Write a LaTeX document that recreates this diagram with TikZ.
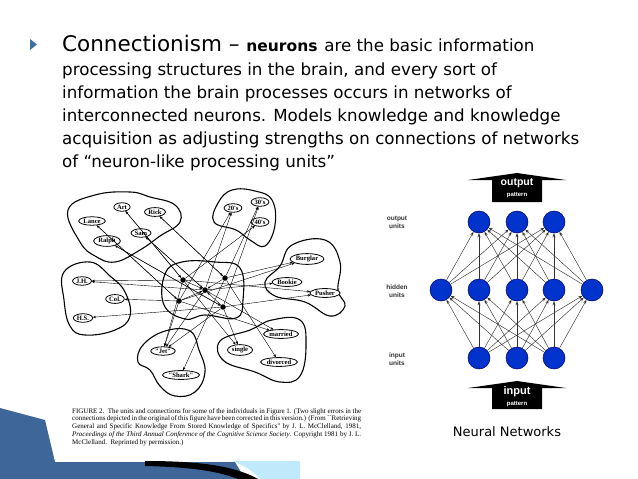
\documentclass[tikz,border=0pt]{standalone}
\usepackage{fontspec}
\setmainfont{DejaVu Sans}
\newfontfamily\capfont{Liberation Serif}
\newfontfamily\labfont{Liberation Sans}
\usetikzlibrary{arrows.meta,shapes.geometric}
\begin{document}
\begin{tikzpicture}[x=1pt,y=-1pt,
  body/.style={anchor=base west,inner sep=0pt,font=\fontsize{16.7}{18}\selectfont},
  leaf/.style={draw,ellipse,line width=0.8pt,inner sep=0.8pt,fill=white,font=\capfont\bfseries\fontsize{6.6}{7}\selectfont},
  unit/.style={circle,fill=black,inner sep=0pt,minimum size=5.5pt},
  blob/.style={line width=1.1pt},
  fc/.style={-{Stealth[length=3pt,width=2.5pt]},line width=0.4pt},
  nn/.style={circle,fill=blue!75!cyan!80!black,draw=blue!40!black,line width=0.5pt,minimum size=22pt,inner sep=0pt},
  nc/.style={-{Stealth[length=4pt,width=3pt]},line width=0.45pt,gray!40!black},
  side/.style={align=center,font=\labfont\bfseries\fontsize{6.5}{8}\selectfont,text=black!80},
  bigarr/.style={fill=black}]
\useasboundingbox (0,0) rectangle (638,479);
\fill[white] (0,0) rectangle (638,479);
% bottom swoosh
\fill[cyan!50!blue!70!black] (0,408) -- (45,420) -- (55,462) -- (235,462) -- (245,479) -- (0,479) -- cycle;
\fill[black] (145,461) .. controls (200,461) and (235,466) .. (258,479) -- (238,479) .. controls (215,470) and (185,467) .. (145,466) -- cycle;
\fill[cyan!25] (232,461) -- (300,461) -- (300,479) -- (260,479) .. controls (252,470) and (243,465) .. (232,461) -- cycle;
% bullet
\fill[cyan!60!blue!70!black] (30,39) -- (37,44.5) -- (30,50) -- cycle;
% text
\node[body,font=\fontsize{21.5}{24}\selectfont] (t1) at (62,52) {Connectionism – {\fontsize{15.5}{18}\selectfont\bfseries neurons} {\fontsize{16.7}{18}\selectfont are the basic information}};
\node[body] (t2) at (62,75) {processing structures in the brain, and every sort of};
\node[body] (t3) at (62,98) {information the brain processes occurs in networks of};
\node[body] (t4) at (62,121) {interconnected neurons. Models knowledge and knowledge};
\node[body] (t5) at (62,144) {acquisition as adjusting strengths on connections of networks};
\node[body] (t6) at (62,167) {of “neuron-like processing units”};
% ---- left figure ----
\draw[blob] plot[smooth cycle,tension=0.7] coordinates {(68,210) (95,195) (130,192) (150,197) (175,205) (180,222) (160,236) (140,250) (115,262) (95,256) (80,242)};
\draw[blob] plot[smooth cycle,tension=0.7] coordinates {(218,203) (232,190) (255,191) (272,200) (275,225) (265,246) (250,240) (236,230) (214,222)};
\draw[blob] plot[smooth cycle,tension=0.7] coordinates {(292,245) (325,240) (340,262) (338,290) (345,306) (330,316) (305,302) (275,296) (265,282) (280,266)};
\draw[blob] plot[smooth cycle,tension=0.7] coordinates {(64,272) (90,262) (110,276) (125,292) (130,316) (115,330) (85,335) (70,326) (64,300)};
\draw[blob] plot[smooth cycle,tension=0.7] coordinates {(220,341) (250,330) (272,320) (300,320) (306,345) (300,376) (280,382) (255,372) (224,361)};
\draw[blob] plot[smooth cycle,tension=0.7] coordinates {(143,345) (165,331) (190,331) (199,350) (205,372) (195,392) (175,396) (160,386) (150,370) (138,362)};
\draw[blob] plot[smooth cycle,tension=0.7] coordinates {(165,274) (182,262) (215,262) (240,268) (243,300) (236,318) (205,315) (185,319) (164,305)};
\node[unit] (u1) at (183,280) {};
\node[unit] (u2) at (225,278) {};
\node[unit] (u3) at (205,290) {};
\node[unit] (u4) at (179,301) {};
\node[unit] (u5) at (223,307) {};
\node[leaf] (art) at (122,207) {Art};
\node[leaf] (rick) at (155,212) {Rick};
\node[leaf] (lance) at (92,221) {Lance};
\node[leaf] (sam) at (141,233) {Sam};
\node[leaf] (ralph) at (107,241) {Ralph};
\node[leaf] (a20) at (233,208) {20's};
\node[leaf] (a30) at (260,202) {30's};
\node[leaf] (a40) at (260,222) {40's};
\node[leaf] (burg) at (307,259) {Burglar};
\node[leaf] (book) at (287,282) {Bookie};
\node[leaf] (push) at (325,293) {Pusher};
\node[leaf] (jh) at (82,281) {J.H.};
\node[leaf] (col) at (115,299) {Col.};
\node[leaf] (hs) at (83,318) {H.S.};
\node[leaf] (mar) at (281,334) {married};
\node[leaf] (sin) at (240,350) {single};
\node[leaf] (div) at (279,362) {divorced};
\node[leaf] (jet) at (163,351) {"Jet"};
\node[leaf] (shark) at (181,375) {"Shark"};
\foreach \u/\a/\b/\c/\d/\e in {u1/art/a40/push/jet/sin, u2/rick/a30/burg/shark/div, u3/sam/a20/book/jet/mar, u4/lance/a20/burg/jet/mar, u5/ralph/a30/push/jet/sin}{
  \draw[fc] (\u) -- (\a); \draw[fc] (\u) -- (\b); \draw[fc] (\u) -- (\c); \draw[fc] (\u) -- (\d); \draw[fc] (\u) -- (\e);
  \draw[fc] (\a) -- (\u);}
\draw[fc] (u1) -- (jh); \draw[fc] (u4) -- (col); \draw[fc] (u5) -- (hs); \draw[fc] (u3) -- (jh);
\draw[fc] (u1) -- (u3); \draw[fc] (u4) -- (u3); \draw[fc] (u2) -- (u3); \draw[fc] (u5) -- (u3);
\node[anchor=north west,inner sep=0pt,text width=289pt,align=justify,font=\capfont\fontsize{7}{7.8}\selectfont] (cap) at (72,408) {FIGURE 2.\ \ The units and connections for some of the individuals in Figure 1. (Two slight errors in the connections depicted in the original of this figure have been corrected in this version.) (From ``Retrieving General and Specific Knowledge From Stored Knowledge of Specifics'' by J. L. McClelland, 1981, \textit{Proceedings of the Third Annual Conference of the Cognitive Science Society}. Copyright 1981 by J. L. McClelland.\ \ Reprinted by permission.)};
% ---- right network ----
\fill[bigarr] (468,180) -- (517,173) -- (566,180) -- (542,180) -- (542,202) -- (492,202) -- (492,180) -- cycle;
\node[text=white,font=\labfont\bfseries\fontsize{10.5}{11}\selectfont,inner sep=0pt] (ot) at (517,183) {output};
\node[text=white,font=\labfont\bfseries\fontsize{6}{7}\selectfont,inner sep=0pt] (op) at (517,195) {pattern};
\fill[bigarr] (468,388) -- (517,381) -- (566,388) -- (542,388) -- (542,409) -- (492,409) -- (492,388) -- cycle;
\node[text=white,font=\labfont\bfseries\fontsize{11}{12}\selectfont,inner sep=0pt] (it) at (517,392) {input};
\node[text=white,font=\labfont\bfseries\fontsize{6}{7}\selectfont,inner sep=0pt] (ip) at (517,404) {pattern};
\node[side] (lo) at (397,222) {output\\units};
\node[side] (lh) at (397,291) {hidden\\units};
\node[side] (li) at (397,359) {input\\units};
\foreach \i/\x in {1/479,2/517,3/554}{\node[nn] (o\i) at (\x,222) {}; \node[nn] (i\i) at (\x,358) {};}
\foreach \i/\x in {1/441,2/479,3/517,4/554,5/592}{\node[nn] (h\i) at (\x,290) {};}
\foreach \i in {1,2,3}{\foreach \j in {1,...,5}{\draw[nc] (i\i) -- (h\j); \draw[nc] (h\j) -- (o\i);}}
\node[font=\fontsize{13}{15}\selectfont,inner sep=0pt] (nnl) at (507,432) {Neural Networks};
\end{tikzpicture}
\end{document}
